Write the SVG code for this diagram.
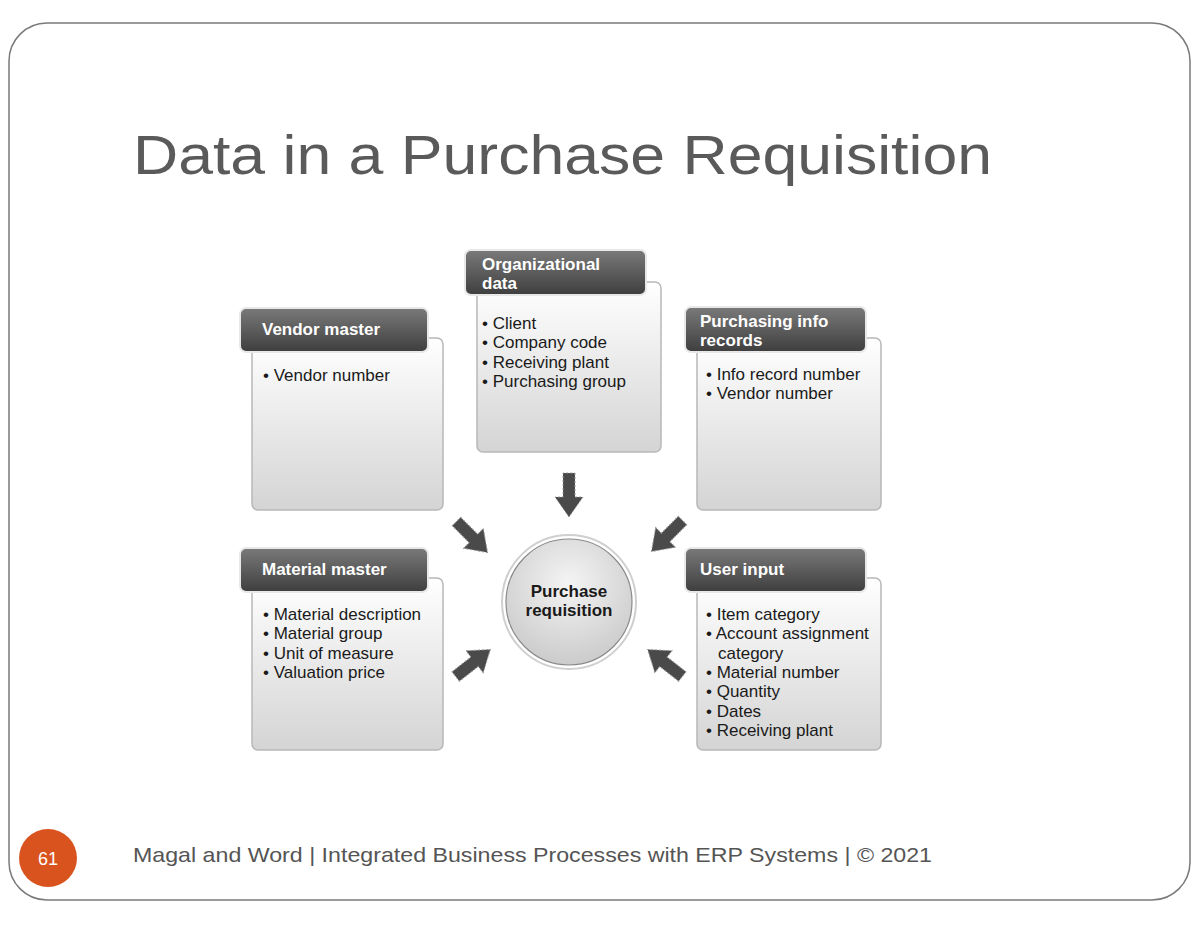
<svg xmlns="http://www.w3.org/2000/svg" width="1200" height="927" viewBox="0 0 1200 927">
<defs>
<linearGradient id="body" x1="0" y1="0" x2="0" y2="1"><stop offset="0" stop-color="#ffffff"/><stop offset="1" stop-color="#d4d4d4"/></linearGradient>
<linearGradient id="head" x1="0" y1="0" x2="0" y2="1"><stop offset="0" stop-color="#7a7a7a"/><stop offset="1" stop-color="#3e3e3e"/></linearGradient>
<radialGradient id="circ" cx="0.5" cy="0.35" r="0.7"><stop offset="0" stop-color="#f4f4f4"/><stop offset="1" stop-color="#c8c8c8"/></radialGradient>
<path id="arr" d="M-22,-6 L2,-6 L2,-14 L22,0 L2,14 L2,6 L-22,6 Z"/>
</defs>
<style>
.body{fill:url(#body);stroke:#b8b8b8;stroke-width:1.5}
.head{fill:url(#head);stroke:#e8e8e8;stroke-width:2}
.ht{font-family:"Liberation Sans",Arial,sans-serif;font-weight:bold;font-size:17px;fill:#ffffff}
.bt{font-family:"Liberation Sans",Arial,sans-serif;font-size:17px;fill:#1a1a1a}
.arrow{fill:#4a4a4a;stroke:#9a9a9a;stroke-width:1;stroke-dasharray:2 2}
</style>
<rect x="9" y="23" width="1181" height="877" rx="38" fill="#ffffff" stroke="#7a7a7a" stroke-width="1.5"/>
<text x="133" y="174" font-family="Liberation Sans,Arial,sans-serif" font-size="56" fill="#5a5a5a" textLength="859" lengthAdjust="spacingAndGlyphs">Data in a Purchase Requisition</text>

<g id="vendor">
<rect class="body" x="252" y="338" width="191" height="172" rx="6"/>
<rect class="head" x="240" y="308" width="188" height="44" rx="6"/>
<text class="ht" x="262" y="335">Vendor master</text>
<text class="bt" x="263" y="381">• Vendor number</text>
</g>
<g id="org">
<rect class="body" x="477" y="282" width="184" height="170" rx="6"/>
<rect class="head" x="465" y="250" width="181" height="45" rx="6"/>
<text class="ht" x="482" y="270">Organizational</text>
<text class="ht" x="482" y="289">data</text>
<text class="bt" x="482" y="329">• Client</text>
<text class="bt" x="482" y="348">• Company code</text>
<text class="bt" x="482" y="368">• Receiving plant</text>
<text class="bt" x="482" y="387">• Purchasing group</text>
</g>
<g id="pinfo">
<rect class="body" x="697" y="338" width="184" height="172" rx="6"/>
<rect class="head" x="685" y="307" width="181" height="45" rx="6"/>
<text class="ht" x="700" y="327">Purchasing info</text>
<text class="ht" x="700" y="346">records</text>
<text class="bt" x="706" y="380">• Info record number</text>
<text class="bt" x="706" y="399">• Vendor number</text>
</g>
<g id="material">
<rect class="body" x="252" y="578" width="191" height="172" rx="6"/>
<rect class="head" x="240" y="548" width="188" height="44" rx="6"/>
<text class="ht" x="262" y="575">Material master</text>
<text class="bt" x="263" y="620">• Material description</text>
<text class="bt" x="263" y="639">• Material group</text>
<text class="bt" x="263" y="659">• Unit of measure</text>
<text class="bt" x="263" y="678">• Valuation price</text>
</g>
<g id="user">
<rect class="body" x="697" y="578" width="184" height="172" rx="6"/>
<rect class="head" x="685" y="548" width="181" height="44" rx="6"/>
<text class="ht" x="700" y="575">User input</text>
<text class="bt" x="706" y="620">• Item category</text>
<text class="bt" x="706" y="639">• Account assignment</text>
<text class="bt" x="718" y="659">category</text>
<text class="bt" x="706" y="678">• Material number</text>
<text class="bt" x="706" y="697">• Quantity</text>
<text class="bt" x="706" y="717">• Dates</text>
<text class="bt" x="706" y="736">• Receiving plant</text>
</g>
<g id="pr">
<circle cx="569" cy="602" r="67" fill="#ffffff" stroke="#cfcfcf" stroke-width="2"/>
<circle cx="569" cy="602" r="63" fill="url(#circ)" stroke="#8a8a8a" stroke-width="1.2"/>
<text x="569" y="597" text-anchor="middle" font-family="Liberation Sans,Arial,sans-serif" font-weight="bold" font-size="17" fill="#1a1a1a">Purchase</text>
<text x="569" y="616" text-anchor="middle" font-family="Liberation Sans,Arial,sans-serif" font-weight="bold" font-size="17" fill="#1a1a1a">requisition</text>
</g>
<g id="connectors">
<use href="#arr" class="arrow" transform="translate(569,495) rotate(90)"/>
<use href="#arr" class="arrow" transform="translate(472,537) rotate(45)"/>
<use href="#arr" class="arrow" transform="translate(667,536) rotate(135)"/>
<use href="#arr" class="arrow" transform="translate(473,663) rotate(-38)"/>
<use href="#arr" class="arrow" transform="translate(665,663) rotate(-142)"/>
</g>
<g id="footer">
<circle cx="48" cy="858" r="29" fill="#d9531e"/>
<text x="48" y="865" text-anchor="middle" font-family="Liberation Sans,Arial,sans-serif" font-size="18" fill="#ffffff">61</text>
<text x="133" y="862" font-family="Liberation Sans,Arial,sans-serif" font-size="21" fill="#555555" textLength="799" lengthAdjust="spacingAndGlyphs">Magal and Word | Integrated Business Processes with ERP Systems | © 2021</text>
</g>
</svg>
